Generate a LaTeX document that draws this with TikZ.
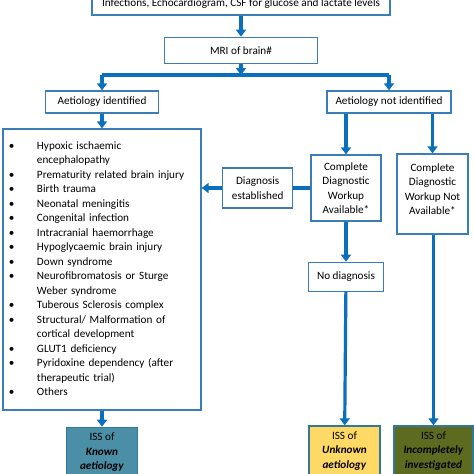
\documentclass[tikz,border=0pt]{standalone}
\usepackage{fontspec}
\setmainfont{Carlito}
\usepackage{tikz}
\usetikzlibrary{arrows.meta,positioning}
\definecolor{boxblue}{HTML}{3A7DB8}
\definecolor{arrowblue}{HTML}{0A70BE}
\definecolor{issteal}{HTML}{4B8FA6}
\definecolor{issyellow}{HTML}{FFD966}
\definecolor{issolive}{HTML}{5C6B1F}
\definecolor{issedge}{HTML}{33779A}

\begin{document}
\begin{tikzpicture}[
  x=1pt,y=-1pt,
  node distance=16pt,
  box/.style={draw=boxblue,line width=1.3pt,fill=white,inner sep=2pt,align=center,font=\fontsize{11.2}{14.5}\selectfont},
  iss/.style={box,draw=issedge,minimum width=71pt,minimum height=50pt},
  arrow/.style={-{Triangle[width=10pt,length=7pt]},line width=3.2pt,arrowblue},
  link/.style={line width=3.2pt,arrowblue}
]
\useasboundingbox (0,0) rectangle (474,474);
\clip (0,0) rectangle (474,474);
\fill[white] (0,0) rectangle (474,474);

\node[box,minimum width=298pt,minimum height=22pt] (tests) at (241,4) {Infections, Echocardiogram, CSF for glucose and lactate levels};
\node[box,below=21pt of tests,minimum width=153pt,minimum height=26pt] (mri) {MRI of brain\#};
\coordinate (split) at (241,75);
\node[box,minimum width=113pt,minimum height=22pt] (aetid) at (102,102) {Aetiology identified};
\node[box,minimum width=124pt,minimum height=22pt] (aetno) at (389,102) {Aetiology not identified};

\node[box,text width=186pt,inner xsep=6pt,minimum height=281pt,align=left] (causes) at (102,269.5) {%
  \begin{tabular}{@{}p{28pt}@{}l@{}}
  \textbullet & Hypoxic ischaemic\\
              & encephalopathy\\
  \textbullet & Prematurity related brain injury\\
  \textbullet & Birth trauma\\
  \textbullet & Neonatal meningitis\\
  \textbullet & Congenital infection\\
  \textbullet & Intracranial haemorrhage\\
  \textbullet & Hypoglycaemic brain injury\\
  \textbullet & Down syndrome\\
  \textbullet & Neurofibromatosis or Sturge\\
              & Weber syndrome\\
  \textbullet & Tuberous Sclerosis complex\\
  \textbullet & Structural/ Malformation of\\
              & cortical development\\
  \textbullet & GLUT1 deficiency\\
  \textbullet & Pyridoxine dependency (after\\
              & therapeutic trial)\\
  \textbullet & Others
  \end{tabular}};

\node[box,minimum width=70pt,minimum height=66pt] (avail) at (346,188) {Complete\\Diagnostic\\Workup\\Available*};
\node[box,left=17pt of avail,minimum width=70pt,minimum height=40pt] (diag) {Diagnosis\\established};
\node[box,below=40pt of avail,minimum width=75pt,minimum height=29pt] (nodiag) {No diagnosis};
\node[box,minimum width=71pt,minimum height=80pt] (notavail) at (432.5,194) {%
  \begin{tabular}{@{}c@{}}Complete\\Diagnostic\\Workup Not\\Available*\\[8pt]\end{tabular}};

\node[iss,fill=issteal,below=of causes] (known) {ISS of\\\textbf{\textit{Known}}\\\textbf{\textit{aetiology}}};
\node[iss,fill=issyellow] (unknown) at (344.5,451) {ISS of\\\textbf{\textit{Unknown}}\\\textbf{\textit{aetiology}}};
\node[iss,fill=issolive,minimum width=79pt] (incomplete) at (433.5,451) {ISS of\\\textbf{\textit{Incompletely}}\\\textbf{\textit{investigated}}};

\draw[arrow] (tests) -- (mri);
\draw[arrow] (mri) -- (split);
\draw[link] (split -| aetid) -- (split -| aetno);
\draw[arrow] (split -| aetid) -- (aetid);
\draw[arrow] (split -| aetno) -- (aetno);
\draw[arrow] (aetid) -- (causes);
\draw[arrow] (aetno.south -| avail) -- (avail);
\draw[arrow] (aetno.south -| notavail) -- (notavail);
\draw[link] (avail) -- (diag);
\draw[arrow] (diag) -- (causes.east |- diag);
\draw[arrow] (avail) -- (nodiag);
\draw[arrow] (nodiag) -- (unknown);
\draw[arrow] (notavail.south -| incomplete) -- (incomplete);
\draw[arrow] (causes.south -| known) -- (known);
\end{tikzpicture}
\end{document}
